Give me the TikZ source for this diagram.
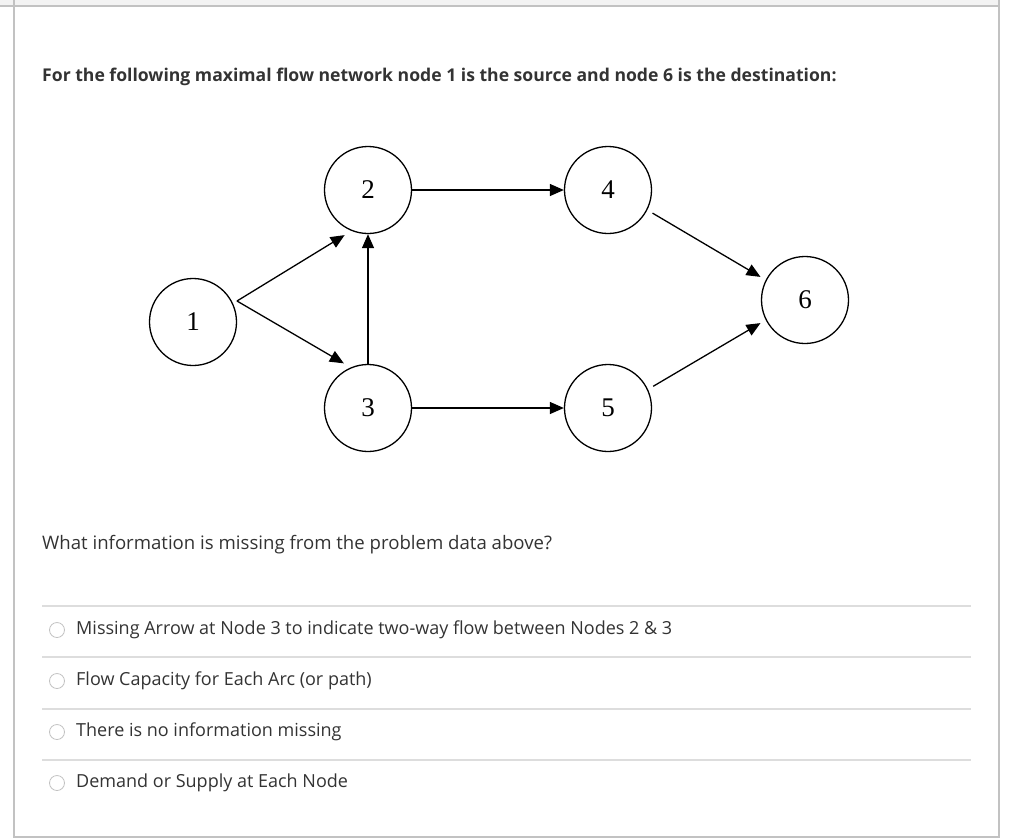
\documentclass[tikz,border=0pt]{standalone}
\usepackage{fontspec}
\setmainfont{Open Sans}
\newfontfamily\numfont{Liberation Serif}
\usepackage{xcolor}
\usetikzlibrary{arrows.meta}
\definecolor{frameGray}{HTML}{C2C2C2}
\definecolor{bandGray}{HTML}{F3F3F3}
\definecolor{ruleGray}{HTML}{DDDDDD}
\definecolor{textGray}{HTML}{333333}
\newcommand{\qsize}{\fontsize{18}{21}\selectfont}

\begin{document}
\begin{tikzpicture}[x=1pt, y=-1pt, >={Triangle[length=14pt,width=12pt]},
  vertex/.style={draw, circle, minimum size=87pt, inner sep=0pt,
    line width=1.3pt, font=\numfont\fontsize{27}{27}\selectfont},
  flow/.style={->, line width=1.3pt},
  qtext/.style={anchor=west, inner sep=0pt, text=textGray, font=\qsize},
  radio/.style={draw=frameGray, fill=white, circle, minimum size=15pt,
    inner sep=0pt, line width=0.8pt},
  optrule/.style={draw=ruleGray, line width=1.6pt}]
  \useasboundingbox (0,0) rectangle (1024,839);

  % Frame
  \fill[bandGray] (0,0) rectangle (999,6);
  \draw[frameGray, line width=2pt] (0,6) -- (999,6);
  \draw[frameGray, line width=2pt] (14,0) -- (14,837) -- (999,837) -- (999,0);

  % Question texts
  \node[qtext, font=\fontsize{17.6}{21}\selectfont\bfseries] (title) at (42,77)
    {For the following maximal flow network node 1 is the source and node 6 is the destination:};
  \node[qtext, font=\fontsize{18.6}{21}\selectfont] (question) at (42,545)
    {What information is missing from the problem data above?};

  % Network
  \node[vertex] (n1) at (193,322) {1};
  \node[vertex] (n2) at (368,190) {2};
  \node[vertex] (n3) at (368,408) {3};
  \node[vertex] (n4) at (608,190) {4};
  \node[vertex] (n5) at (608,408) {5};
  \node[vertex] (n6) at (805,300) {6};
  \coordinate (fork) at (237,301);

  \draw[flow, shorten >=8pt] (fork) -- (n2.248);
  \draw[flow, shorten >=8pt] (fork) -- (n3.113);
  \draw[flow] (n3.north) -- (n2.south);
  \draw[flow] (n2.east) -- (n4.west);
  \draw[flow] (n3.east) -- (n5.west);
  \draw[flow, shorten <=6pt, shorten >=6pt] (n4.-27) -- (n6.153);
  \draw[flow, shorten <=6pt, shorten >=6pt] (n5.25) -- (n6.207);

  % Answer choices
  \draw[optrule] (42,606) -- (971,606);
  \draw[optrule] (42,657) -- (971,657);
  \draw[optrule] (42,709) -- (971,709);
  \draw[optrule] (42,760) -- (971,760);

  \node[radio] (r1) at (57,630) {};
  \node[radio] (r2) at (57,681) {};
  \node[radio] (r3) at (57,732) {};
  \node[radio] (r4) at (57,783) {};

  \node[qtext] (opt1) at (76,630)
    {Missing Arrow at Node 3 to indicate two-way flow between Nodes 2 \& 3};
  \node[qtext] (opt2) at (76,681) {Flow Capacity for Each Arc (or path)};
  \node[qtext] (opt3) at (76,732) {There is no information missing};
  \node[qtext] (opt4) at (76,783) {Demand or Supply at Each Node};

\end{tikzpicture}
\end{document}
